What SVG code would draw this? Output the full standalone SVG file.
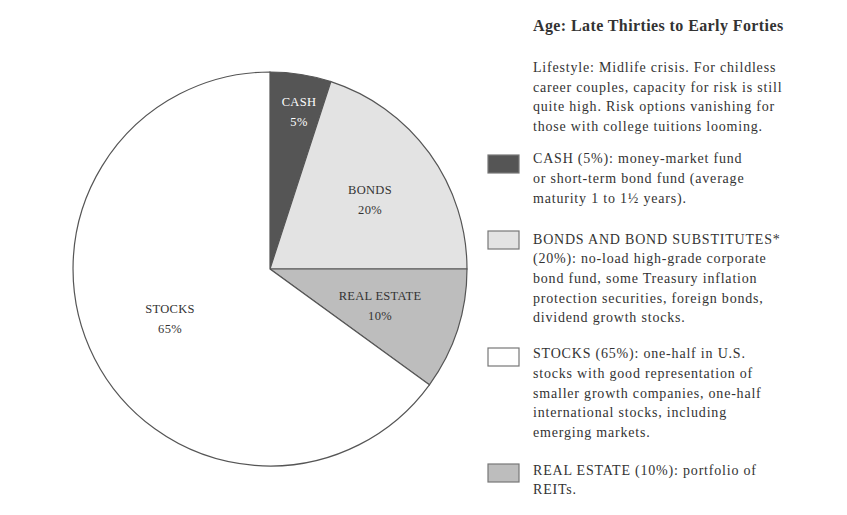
<svg xmlns="http://www.w3.org/2000/svg" width="847" height="515" viewBox="0 0 847 515" font-family="Liberation Serif, DejaVu Serif, serif">
<style>
text{fill:#333;font-size:14px;letter-spacing:0.8px}
.pl{font-size:12.5px;text-anchor:middle;letter-spacing:0.3px}
.t{font-weight:bold;font-size:16px;letter-spacing:0.4px}
.s{stroke:#555;stroke-width:1.2}
.b{stroke:#777;stroke-width:1.2}
</style>
<rect width="847" height="515" fill="#fff"/>
<g id="pie">
<path class="s" d="M270,269 L270,72 A197,197 0 0 1 330.9,81.6 Z" fill="#555"/>
<path class="s" d="M270,269 L330.9,81.6 A197,197 0 0 1 467,269 Z" fill="#e3e3e3"/>
<path class="s" d="M270,269 L467,269 A197,197 0 0 1 429.4,384.8 Z" fill="#bdbdbd"/>
<path class="s" d="M270,269 L429.4,384.8 A197,197 0 1 1 270,72 Z" fill="#fff"/>
<text class="pl" x="299" y="106" style="fill:#fff">CASH</text><text class="pl" x="299" y="126" style="fill:#fff">5%</text>
<text class="pl" x="370" y="194">BONDS</text><text class="pl" x="370" y="214">20%</text>
<text class="pl" x="380" y="300">REAL ESTATE</text><text class="pl" x="380" y="320">10%</text>
<text class="pl" x="170" y="313">STOCKS</text><text class="pl" x="170" y="333">65%</text>
</g>
<g id="legend">
<text class="t" x="533" y="31">Age: Late Thirties to Early Forties</text>
<text x="533" y="72">Lifestyle: Midlife crisis. For childless</text>
<text x="533" y="92">career couples, capacity for risk is still</text>
<text x="533" y="111">quite high. Risk options vanishing for</text>
<text x="533" y="131">those with college tuitions looming.</text>
<rect class="b" x="488" y="155" width="31" height="18" fill="#555"/>
<text x="533" y="163">CASH (5%): money-market fund</text>
<text x="533" y="183">or short-term bond fund (average</text>
<text x="533" y="203">maturity 1 to 1½ years).</text>
<rect class="b" x="488" y="231" width="31" height="18" fill="#e3e3e3"/>
<text x="533" y="244">BONDS AND BOND SUBSTITUTES*</text>
<text x="533" y="263">(20%): no-load high-grade corporate</text>
<text x="533" y="283">bond fund, some Treasury inflation</text>
<text x="533" y="303">protection securities, foreign bonds,</text>
<text x="533" y="322">dividend growth stocks.</text>
<rect class="b" x="488" y="348" width="31" height="18" fill="#fff"/>
<text x="533" y="358">STOCKS (65%): one-half in U.S.</text>
<text x="533" y="378">stocks with good representation of</text>
<text x="533" y="398">smaller growth companies, one-half</text>
<text x="533" y="417">international stocks, including</text>
<text x="533" y="437">emerging markets.</text>
<rect class="b" x="488" y="464" width="31" height="18" fill="#bdbdbd"/>
<text x="533" y="475">REAL ESTATE (10%): portfolio of</text>
<text x="533" y="494">REITs.</text>
</g>
</svg>
